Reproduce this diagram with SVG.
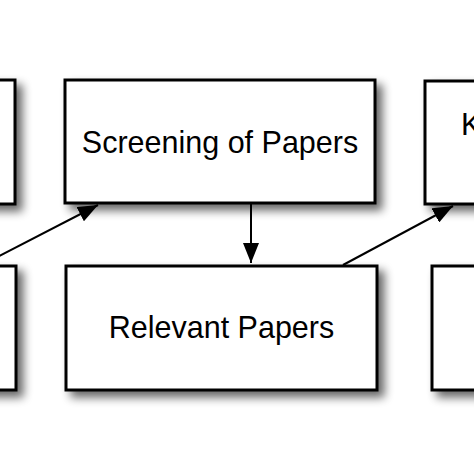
<svg xmlns="http://www.w3.org/2000/svg" width="474" height="474" viewBox="0 0 474 474">
<defs>
<filter id="sh" x="-20%" y="-20%" width="150%" height="150%">
<feGaussianBlur in="SourceAlpha" stdDeviation="5"/>
<feOffset dx="6" dy="6" result="b"/>
<feComponentTransfer><feFuncA type="linear" slope="0.6"/></feComponentTransfer>
<feMerge><feMergeNode/><feMergeNode in="SourceGraphic"/></feMerge>
</filter>
<marker id="ah" viewBox="0 0 20 16" refX="20" refY="8" markerWidth="20" markerHeight="16" markerUnits="userSpaceOnUse" orient="auto">
<path d="M0,0 L20,8 L0,16 z" fill="#000"/>
</marker>
<style>
.box{fill:#fff;stroke:#000;stroke-width:3;filter:url(#sh)}
.lbl{font-family:"Liberation Sans",Arial,sans-serif;font-size:30.5px;fill:#000}
.con{stroke:#000;stroke-width:2;fill:none;marker-end:url(#ah)}
</style>
</defs>
<rect width="474" height="474" fill="#fff"/>
<g id="node-top-left"><rect class="box" x="-60" y="80" width="75" height="124"/></g>
<g id="node-screening"><rect class="box" x="65" y="80" width="310" height="123"/>
<text class="lbl" x="220" y="153" text-anchor="middle">Screening of Papers</text></g>
<g id="node-top-right"><rect class="box" x="425" y="81" width="100" height="123"/>
<text class="lbl" x="461" y="135">K</text></g>
<g id="node-bottom-left"><rect class="box" x="-60" y="266" width="76" height="124"/></g>
<g id="node-relevant"><rect class="box" x="66" y="266" width="311" height="124"/>
<text class="lbl" x="221.5" y="338" text-anchor="middle">Relevant Papers</text></g>
<g id="node-bottom-right"><rect class="box" x="432" y="266" width="100" height="124"/></g>
<g id="connectors">
<line class="con" x1="-18" y1="265" x2="98" y2="205"/>
<line class="con" x1="251" y1="204" x2="251" y2="263"/>
<line class="con" x1="343" y1="265" x2="453" y2="206"/>
</g>
</svg>
